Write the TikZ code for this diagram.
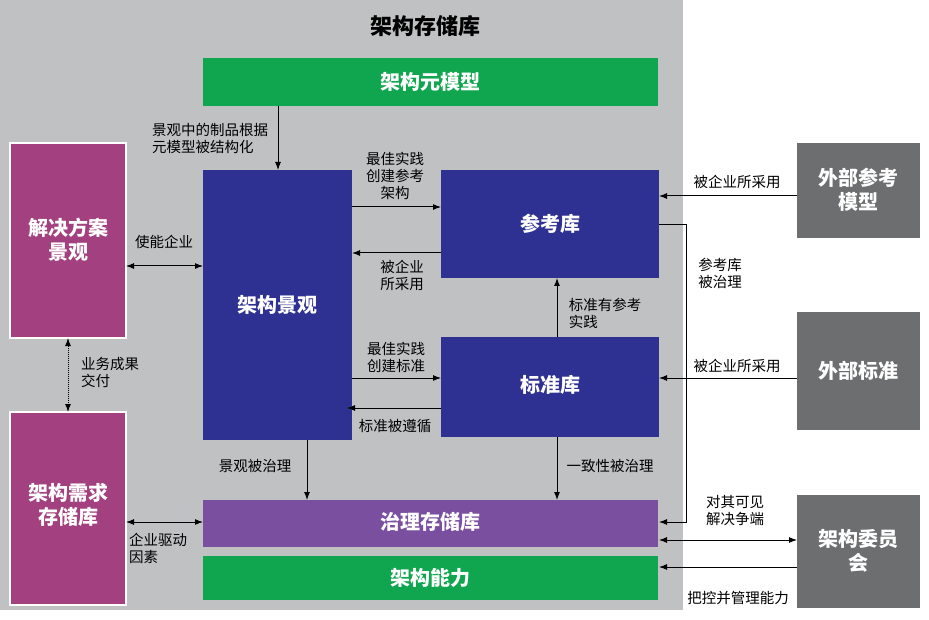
\documentclass[tikz,border=0pt]{standalone}
\usepackage{fontspec}
\setmainfont{Noto Sans CJK SC}
\usetikzlibrary{arrows.meta}
\definecolor{bg}{HTML}{C0C1C3}
\definecolor{navy}{HTML}{2E3192}
\definecolor{grn}{HTML}{10A64F}
\definecolor{plum}{HTML}{A3407F}
\definecolor{gov}{HTML}{7B4FA0}
\definecolor{ext}{HTML}{6D6E70}
\tikzset{
 bx/.style={text=white,font=\bfseries\fontsize{20}{24}\selectfont,align=center,inner sep=0pt},
 lb/.style={font=\fontsize{14.5}{17}\selectfont,align=center,inner sep=1pt},
 ar/.style={-{Latex[length=8pt,width=6pt]},line width=1pt},
 dar/.style={{Latex[length=8pt,width=6pt]}-{Latex[length=8pt,width=6pt]},line width=1pt},
}
\begin{document}
\begin{tikzpicture}[x=1pt,y=-1pt]
\useasboundingbox (0,0) rectangle (929,620);
\fill[white] (0,0) rectangle (929,620);
\fill[bg] (0,0) rectangle (683,610);
\node[font=\bfseries\fontsize{22}{26}\selectfont] (title) at (425,26) {架构存储库};
\fill[grn] (203,58) rectangle (658,106); \node[bx] (meta) at (430,82) {架构元模型};
\fill[navy] (203,170) rectangle (352,440); \node[bx] (land) at (277,305) {架构景观};
\fill[navy] (441,170) rectangle (659,278); \node[bx] (ref) at (550,224) {参考库};
\fill[navy] (441,337) rectangle (659,437); \node[bx] (std) at (550,385) {标准库};
\draw[white,line width=2pt,fill=plum] (10,143) rectangle (126,338); \node[bx] (sol) at (68,240) {解决方案\\景观};
\draw[white,line width=2pt,fill=plum] (10,412) rectangle (126,605); \node[bx] (req) at (68,505) {架构需求\\存储库};
\fill[gov] (203,500) rectangle (658,547); \node[bx] (gv) at (430,522) {治理存储库};
\fill[grn] (203,556) rectangle (658,600); \node[bx] (cap) at (430,578) {架构能力};
\fill[ext] (797,143) rectangle (920,238); \node[bx] (erm) at (858,190) {外部参考\\模型};
\fill[ext] (797,312) rectangle (920,430); \node[bx] (est) at (858,371) {外部标准};
\fill[ext] (797,495) rectangle (920,608); \node[bx] (ab) at (858,551) {架构委员\\会};
\coordinate (a1) at (278,106); \coordinate (a2) at (278,170);
\draw[ar] (a1) -- (a2);
\node[lb,align=left] (l1) at (210,138) {景观中的制品根据\\元模型被结构化};
\coordinate (b1) at (126,266); \coordinate (b2) at (203,266);
\draw[dar] (b1) -- (b2); \node[lb] (l2) at (164,242) {使能企业};
\coordinate (c1) at (352,207); \coordinate (c2) at (441,207);
\draw[ar] (c1) -- (c2); \node[lb] (l3) at (395,176) {最佳实践\\创建参考\\架构};
\coordinate (d1) at (441,253); \coordinate (d2) at (352,253);
\draw[ar] (d1) -- (d2); \node[lb] (l4) at (402,275) {被企业\\所采用};
\coordinate (e1) at (352,378); \coordinate (e2) at (441,378);
\draw[ar] (e1) -- (e2); \node[lb] (l5) at (396,357) {最佳实践\\创建标准};
\coordinate (f1) at (441,408); \coordinate (f2) at (347,408);
\draw[ar] (f1) -- (f2); \node[lb] (l6) at (395,426) {标准被遵循};
\coordinate (g1) at (557,337); \coordinate (g2) at (557,278);
\draw[ar] (g1) -- (g2); \node[lb,align=left] (l7) at (605,313) {标准有参考\\实践};
\coordinate (h1) at (307,440); \coordinate (h2) at (307,500);
\draw[ar] (h1) -- (h2); \node[lb] (l8) at (255,466) {景观被治理};
\coordinate (i1) at (557,437); \coordinate (i2) at (557,500);
\draw[ar] (i1) -- (i2); \node[lb] (l9) at (610,466) {一致性被治理};
\coordinate (j1) at (797,196); \coordinate (j2) at (659,196);
\draw[ar] (j1) -- (j2); \node[lb] (l10) at (737,182) {被企业所采用};
\coordinate (k1) at (797,378); \coordinate (k2) at (659,378);
\draw[ar] (k1) -- (k2); \node[lb] (l11) at (737,366) {被企业所采用};
\coordinate (m1) at (659,225); \coordinate (m2) at (659,522);
\draw[ar] (m1) -- (686,225) -- (686,522) -- (m2);
\node[lb,align=left] (l12) at (720,273) {参考库\\被治理};
\coordinate (n1) at (659,540); \coordinate (n2) at (797,540);
\draw[dar] (n1) -- (n2); \node[lb,align=left] (l13) at (735,511) {对其可见\\解决争端};
\coordinate (o1) at (797,567); \coordinate (o2) at (659,567);
\draw[ar] (o1) -- (o2); \node[lb] (l14) at (738,598) {把控并管理能力};
\coordinate (p1) at (68,338); \coordinate (p2) at (68,412);
\draw[dar,densely dotted] (p1) -- (p2); \node[lb,align=left] (l15) at (110,372) {业务成果\\交付};
\coordinate (q1) at (126,522); \coordinate (q2) at (203,522);
\draw[dar] (q1) -- (q2); \node[lb,align=left] (l16) at (158,548) {企业驱动\\因素};
\end{tikzpicture}
\end{document}
